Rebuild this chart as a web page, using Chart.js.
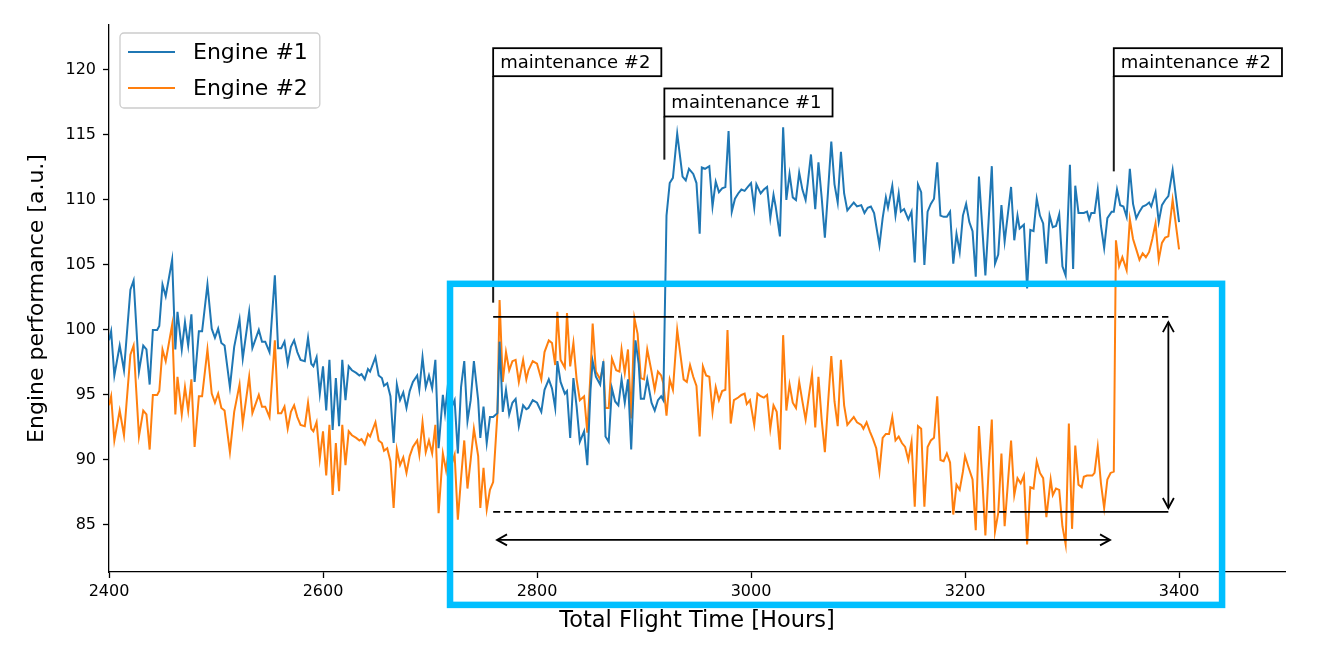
<!DOCTYPE html>
<html>
<head>
<meta charset="utf-8">
<title>Engine performance</title>
<script src="https://cdn.jsdelivr.net/npm/chart.js@4/dist/chart.umd.min.js"></script>
<style>
  html, body { margin: 0; padding: 0; background: #fff; }
  #wrap { width: 1320px; height: 660px; }
</style>
</head>
<body>
<div id="wrap"><canvas id="c"></canvas></div>
<script>
// ---------------- data ----------------
const seriesNames = ['Engine #1', 'Engine #2'];

const engine1Hours = [
  2400, 2402, 2405, 2410, 2414, 2420, 2423, 2428, 2432, 2435,
  2438, 2441, 2445, 2447, 2450, 2453, 2459, 2462, 2464, 2468,
  2471, 2474, 2477, 2480, 2484, 2487, 2492, 2496, 2499, 2502,
  2505, 2508, 2513, 2517, 2522, 2525, 2531, 2534, 2540, 2543,
  2546, 2550, 2555, 2558, 2561, 2564, 2567, 2570, 2573, 2576,
  2579, 2583, 2586, 2589, 2591, 2594, 2597, 2600, 2603, 2606,
  2609, 2612, 2615, 2618, 2621, 2624, 2627, 2631, 2634, 2636,
  2639, 2642, 2644, 2649, 2652, 2655, 2657, 2660, 2663, 2666,
  2669, 2672, 2675, 2678, 2681, 2684, 2688, 2690, 2693, 2696,
  2699, 2702, 2705, 2708, 2712, 2714, 2717, 2720, 2723, 2726,
  2729, 2732, 2735, 2738, 2741, 2745, 2747, 2750, 2753, 2756,
  2759, 2763, 2765, 2768, 2771, 2774, 2777, 2780, 2783, 2787,
  2790, 2792, 2796, 2800, 2804, 2807, 2811, 2814, 2817, 2819,
  2822, 2826, 2828, 2831, 2834, 2837, 2840, 2844, 2847, 2850,
  2852, 2855, 2859, 2862, 2864, 2867, 2870, 2873, 2876, 2879,
  2882, 2885, 2888, 2892, 2895, 2897, 2900, 2903, 2907, 2910,
  2913, 2916, 2918, 2921, 2924, 2927, 2931, 2936, 2939, 2942,
  2946, 2949, 2952, 2954, 2957, 2961, 2964, 2967, 2970, 2973,
  2976, 2979, 2982, 2985, 2988, 2991, 2994, 2997, 3000, 3003,
  3005, 3009, 3012, 3015, 3018, 3021, 3023, 3027, 3030, 3033,
  3036, 3039, 3042, 3045, 3048, 3051, 3053, 3056, 3060, 3063,
  3066, 3069, 3072, 3075, 3078, 3081, 3084, 3087, 3090, 3093,
  3096, 3099, 3103, 3106, 3109, 3112, 3115, 3120, 3123, 3126,
  3128, 3132, 3135, 3138, 3140, 3143, 3147, 3150, 3153, 3156,
  3159, 3162, 3165, 3168, 3171, 3174, 3177, 3180, 3183, 3186,
  3189, 3192, 3195, 3198, 3201, 3204, 3207, 3210, 3213, 3219,
  3225, 3228, 3231, 3234, 3237, 3243, 3246, 3249, 3251, 3255,
  3258, 3261, 3264, 3267, 3270, 3273, 3276, 3279, 3282, 3285,
  3288, 3291, 3294, 3298, 3301, 3303, 3306, 3309, 3311, 3314,
  3316, 3318, 3321, 3324, 3327, 3330, 3333, 3337, 3339, 3342,
  3345, 3348, 3351, 3354, 3357, 3360, 3363, 3366, 3369, 3372,
  3374, 3378, 3381, 3384, 3387, 3390, 3394, 3397, 3400
];
const engine1Perf = [
  99.2, 99.9, 96.5, 98.8, 96.9, 103.1, 103.8, 96.8, 98.8, 98.5,
  95.8, 100.0, 100.0, 100.3, 103.5, 102.6, 105.4, 98.5, 101.4, 98.5,
  100.6, 98.8, 101.2, 96.0, 99.9, 99.9, 103.5, 100.1, 99.4, 100.1,
  99.0, 98.8, 95.6, 98.7, 100.8, 97.8, 101.4, 98.6, 100.0, 99.1,
  99.1, 98.3, 104.2, 98.6, 98.6, 99.1, 97.4, 98.7, 99.2, 98.3,
  97.7, 97.6, 99.4, 97.4, 97.2, 97.9, 95.1, 97.2, 93.8, 97.7,
  92.3, 96.3, 92.6, 97.7, 94.6, 97.2, 96.9, 96.7, 96.5, 96.6,
  96.2, 97.0, 96.8, 97.9, 96.5, 96.3, 95.7, 95.9, 94.9, 91.3,
  95.8, 94.6, 95.2, 94.0, 95.3, 96.0, 96.5, 95.4, 97.9, 95.6,
  96.5, 95.5, 97.7, 90.9, 95.0, 93.6, 96.0, 94.0, 94.6, 90.5,
  95.6, 97.6, 93.0, 94.6, 97.6, 94.6, 91.7, 94.1, 91.3, 93.3,
  93.3, 93.6, 99.1, 93.7, 95.4, 93.5, 94.4, 94.7, 92.6, 94.2,
  93.9, 94.0, 94.6, 94.4, 93.7, 95.4, 96.2, 95.5, 94.0, 97.6,
  96.0, 95.1, 95.3, 91.7, 96.3, 94.1, 91.4, 92.2, 89.6, 95.4,
  97.6, 96.4, 95.8, 97.6, 91.8, 91.4, 95.5, 94.5, 94.2, 96.2,
  94.4, 96.2, 90.8, 99.2, 97.4, 94.7, 94.7, 96.2, 94.4, 93.8,
  94.6, 94.9, 94.6, 108.8, 111.3, 111.7, 115.1, 111.8, 111.5, 112.4,
  112.0, 111.3, 107.4, 112.5, 112.4, 112.6, 109.5, 111.4, 110.6, 110.9,
  111.0, 115.3, 109.1, 110.1, 110.5, 110.8, 110.7, 111.0, 111.3, 109.4,
  111.2, 110.5, 110.8, 111.0, 108.6, 110.4, 109.5, 107.2, 115.6, 110.0,
  112.0, 110.2, 110.0, 112.1, 110.8, 110.0, 111.3, 113.5, 109.3, 112.9,
  110.2, 107.1, 110.7, 114.5, 111.2, 109.8, 113.7, 110.5, 109.2, 109.5,
  109.8, 109.5, 109.6, 109.0, 109.4, 109.5, 109.0, 106.5, 108.6, 110.2,
  109.4, 111.1, 108.8, 110.5, 109.1, 109.3, 108.5, 109.1, 105.2, 111.2,
  110.6, 105.0, 109.1, 109.7, 110.1, 112.9, 108.8, 108.7, 108.7, 109.1,
  105.1, 107.4, 106.0, 108.8, 109.7, 108.3, 107.6, 104.1, 111.8, 104.2,
  112.6, 105.1, 105.8, 109.6, 106.8, 111.0, 106.9, 108.8, 107.8, 108.1,
  103.2, 107.7, 107.6, 110.1, 108.8, 108.2, 105.1, 108.8, 107.9, 108.0,
  108.9, 104.9, 104.2, 112.7, 104.7, 111.1, 109.0, 109.0, 109.0, 109.1,
  108.5, 109.0, 109.0, 110.8, 108.0, 106.3, 108.6, 109.1, 109.1, 110.8,
  109.6, 109.5, 108.7, 112.4, 109.7, 108.6, 109.1, 109.5, 109.6, 109.8,
  109.5, 110.6, 108.3, 109.6, 110.0, 110.3, 112.3, 110.3, 108.3
];

const engine2Hours = [
  2400, 2402, 2405, 2410, 2414, 2420, 2423, 2428, 2432, 2435,
  2438, 2441, 2445, 2447, 2450, 2453, 2459, 2462, 2464, 2468,
  2471, 2474, 2477, 2480, 2484, 2487, 2492, 2496, 2499, 2502,
  2505, 2508, 2513, 2517, 2522, 2525, 2531, 2534, 2540, 2543,
  2546, 2550, 2555, 2558, 2561, 2564, 2567, 2570, 2573, 2576,
  2579, 2583, 2586, 2589, 2591, 2594, 2597, 2600, 2603, 2606,
  2609, 2612, 2615, 2618, 2621, 2624, 2627, 2631, 2634, 2636,
  2639, 2642, 2644, 2649, 2652, 2655, 2657, 2660, 2663, 2666,
  2669, 2672, 2675, 2678, 2681, 2684, 2688, 2690, 2693, 2696,
  2699, 2702, 2705, 2708, 2712, 2715, 2717, 2720, 2723, 2726,
  2729, 2732, 2735, 2738, 2741, 2745, 2747, 2750, 2753, 2756,
  2759, 2763, 2765, 2768, 2771, 2774, 2777, 2780, 2783, 2787,
  2790, 2792, 2796, 2800, 2804, 2807, 2811, 2814, 2817, 2819,
  2822, 2826, 2828, 2831, 2834, 2837, 2840, 2844, 2847, 2850,
  2852, 2855, 2859, 2862, 2864, 2867, 2870, 2874, 2877, 2879,
  2882, 2885, 2888, 2891, 2894, 2897, 2900, 2903, 2907, 2910,
  2913, 2916, 2918, 2921, 2924, 2927, 2931, 2934, 2937, 2940,
  2943, 2946, 2949, 2952, 2955, 2958, 2961, 2964, 2967, 2970,
  2973, 2976, 2978, 2981, 2984, 2988, 2991, 2994, 2996, 2999,
  3003, 3006, 3009, 3012, 3015, 3018, 3021, 3024, 3027, 3030,
  3033, 3036, 3039, 3042, 3045, 3048, 3051, 3054, 3057, 3060,
  3063, 3066, 3069, 3072, 3075, 3078, 3081, 3084, 3087, 3090,
  3093, 3096, 3099, 3103, 3105, 3108, 3111, 3114, 3117, 3120,
  3123, 3126, 3129, 3132, 3135, 3138, 3141, 3144, 3147, 3150,
  3153, 3156, 3159, 3162, 3165, 3168, 3171, 3174, 3177, 3180,
  3183, 3186, 3189, 3192, 3195, 3198, 3200, 3203, 3207, 3210,
  3213, 3216, 3219, 3222, 3225, 3228, 3231, 3234, 3237, 3240,
  3243, 3246, 3249, 3252, 3255, 3258, 3261, 3264, 3267, 3270,
  3273, 3276, 3280, 3282, 3285, 3288, 3291, 3294, 3297, 3300,
  3303, 3306, 3309, 3311, 3314, 3316, 3319, 3321, 3324, 3327,
  3330, 3333, 3336, 3339, 3341, 3344, 3347, 3351, 3354, 3357,
  3360, 3363, 3366, 3369, 3372, 3375, 3378, 3381, 3384, 3387,
  3390, 3394, 3397, 3400
];
const engine2Perf = [
  94.2, 94.9, 91.5, 93.8, 91.9, 98.1, 98.8, 91.8, 93.8, 93.5,
  90.8, 95.0, 95.0, 95.3, 98.5, 97.6, 100.4, 93.5, 96.4, 93.5,
  95.6, 93.8, 96.2, 91.0, 94.9, 94.9, 98.5, 95.1, 94.4, 95.1,
  94.0, 93.8, 90.6, 93.7, 95.8, 92.8, 96.4, 93.6, 95.0, 94.1,
  94.1, 93.3, 99.2, 93.6, 93.6, 94.1, 92.4, 93.7, 94.2, 93.3,
  92.7, 92.6, 94.4, 92.4, 92.2, 92.9, 90.1, 92.2, 88.8, 92.7,
  87.3, 91.3, 87.6, 92.7, 89.6, 92.2, 91.9, 91.7, 91.5, 91.6,
  91.2, 92.0, 91.8, 92.9, 91.5, 91.3, 90.7, 90.9, 89.9, 86.3,
  90.8, 89.6, 90.2, 89.0, 90.3, 91.0, 91.5, 90.4, 92.9, 90.6,
  91.5, 90.5, 92.7, 85.9, 90.5, 89.2, 90.5, 89.6, 90.4, 85.4,
  88.6, 91.5, 87.8, 90.0, 92.4, 90.3, 86.3, 89.4, 86.2, 87.7,
  88.3, 93.6, 102.3, 96.0, 98.3, 96.9, 97.6, 97.7, 96.0, 97.7,
  96.2, 96.9, 97.6, 97.4, 96.2, 98.3, 99.2, 99.0, 97.3, 101.4,
  97.7, 97.1, 101.3, 97.2, 99.0, 96.2, 94.6, 94.9, 92.1, 96.7,
  100.5, 96.8, 96.2, 97.3, 94.0, 94.0, 97.8, 96.9, 96.8, 98.5,
  96.7, 98.5, 93.2, 100.9, 99.7, 96.3, 96.2, 98.5, 96.8, 95.4,
  96.8, 96.5, 95.9, 93.4, 96.2, 95.4, 100.0, 98.1, 96.2, 96.0,
  97.3, 96.4, 95.7, 91.8, 97.2, 96.5, 96.4, 93.7, 95.6, 94.6,
  95.3, 95.4, 100.0, 92.8, 94.6, 94.8, 95.0, 95.1, 94.3, 94.6,
  92.7, 95.1, 94.9, 94.8, 95.0, 92.4, 94.2, 93.7, 90.8, 99.6,
  93.8, 95.8, 94.4, 94.0, 96.0, 94.5, 93.1, 94.9, 96.6, 92.5,
  96.4, 93.1, 90.6, 94.4, 98.0, 94.5, 92.6, 97.7, 94.2, 92.7,
  93.0, 93.3, 92.9, 92.7, 92.4, 92.9, 92.2, 91.6, 90.9, 89.1,
  91.7, 92.0, 92.0, 93.3, 91.5, 91.8, 91.3, 91.0, 90.0, 91.4,
  86.4, 92.6, 92.4, 86.4, 91.0, 91.5, 91.7, 94.9, 90.0, 89.9,
  90.5, 89.8, 85.8, 88.1, 87.7, 89.1, 90.3, 89.5, 88.5, 84.6,
  92.6, 88.7, 84.2, 89.2, 93.1, 84.5, 85.9, 90.5, 84.9, 88.2,
  91.5, 87.3, 88.6, 88.2, 88.8, 83.5, 87.9, 87.8, 89.9, 89.0,
  88.6, 85.6, 88.5, 87.3, 87.8, 87.7, 84.9, 83.5, 92.8, 84.7,
  91.1, 88.1, 87.9, 88.7, 88.8, 88.8, 88.8, 89.0, 91.0, 88.2,
  86.3, 88.5, 89.0, 89.1, 106.9, 104.9, 105.6, 104.6, 108.5, 107.0,
  106.2, 105.4, 105.9, 105.6, 106.0, 107.0, 108.2, 105.4, 106.7, 107.1,
  107.2, 110.0, 108.1, 106.2
];

// axis ranges and ticks
const xMin = 2400, xMax = 3499, xStep = 200;
const yMin = 81.38, yMax = 123.46, yStep = 5;
const xTitle = 'Total Flight Time [Hours]';
const yTitle = 'Engine performance [a.u.]';

// annotations (data units)
const noteLabels = ['maintenance #2', 'maintenance #1', 'maintenance #2'];
const noteHours = [2759, 2919, 3339];
const noteTextLevel = [120.6, 117.5, 120.6];
const noteTipLevel = [102.1, 113.1, 112.2];

const refStart = 2759, refEnd = 3390;
const upperLevel = 101.0, upperSolidEnd = 2921.5;
const lowerLevel = 86.0, lowerDashEnd = 3246.7;
const vArrowHour = 3390, vArrowTop = 100.6, vArrowBottom = 86.3;
const hArrowLevel = 83.85, hArrowStart = 2762.6, hArrowEnd = 3335.5;
const boxHours = [2718.7, 3440.2], boxLevels = [78.85, 103.55];

// ---------------- styling ----------------
const FONT = '"DejaVu Sans", "Liberation Sans", sans-serif';
const colors = ['#1f77b4', '#ff7f0e'];

function toPoints(hours, vals) { return hours.map((h, i) => ({ x: h, y: vals[i] })); }

const overlay = {
  id: 'overlay',
  afterDatasetsDraw(chart) {
    const { ctx, scales: { x, y }, chartArea } = chart;
    const X = h => x.getPixelForValue(h);
    const Y = v => y.getPixelForValue(v);
    ctx.save();

    function seg(x1, y1, x2, y2, dash, lw, col) {
      ctx.beginPath();
      ctx.setLineDash(dash || []);
      ctx.lineWidth = lw || 1.8;
      ctx.strokeStyle = col || '#000';
      ctx.moveTo(x1, y1); ctx.lineTo(x2, y2);
      ctx.stroke();
      ctx.setLineDash([]);
    }
    function head(tx, ty, dx, dy) {
      const L = 10, W = 5.5;
      const px = -dy, py = dx;
      ctx.beginPath();
      ctx.lineWidth = 1.8; ctx.strokeStyle = '#000'; ctx.lineJoin = 'miter';
      ctx.moveTo(tx - dx * L + px * W, ty - dy * L + py * W);
      ctx.lineTo(tx, ty);
      ctx.lineTo(tx - dx * L - px * W, ty - dy * L - py * W);
      ctx.stroke();
    }

    // reference level lines
    seg(X(refStart), Y(upperLevel), X(upperSolidEnd), Y(upperLevel), []);
    seg(X(upperSolidEnd), Y(upperLevel), X(refEnd), Y(upperLevel), [7, 4]);
    seg(X(refStart), Y(lowerLevel), X(lowerDashEnd), Y(lowerLevel), [7, 4]);
    seg(X(lowerDashEnd), Y(lowerLevel), X(refEnd), Y(lowerLevel), []);

    // double arrows
    const vx = X(vArrowHour), vt = Y(vArrowTop), vb = Y(vArrowBottom);
    seg(vx, vt, vx, vb, []);
    head(vx, vt, 0, -1); head(vx, vb, 0, 1);
    const hy = Y(hArrowLevel), hl = X(hArrowStart), hr = X(hArrowEnd);
    seg(hl, hy, hr, hy, []);
    head(hl, hy, -1, 0); head(hr, hy, 1, 0);

    // maintenance annotations
    ctx.font = '18px ' + FONT;
    ctx.textBaseline = 'middle';
    ctx.textAlign = 'left';
    noteLabels.forEach((label, i) => {
      const bx = X(noteHours[i]);
      const cy = Y(noteTextLevel[i]);
      const tw = ctx.measureText(label).width;
      const bw = tw + 18, bh = 28;
      seg(bx, cy + bh / 2, bx, Y(noteTipLevel[i]), [], 2, '#1a1a1a');
      ctx.fillStyle = '#fff';
      ctx.fillRect(bx, cy - bh / 2, bw, bh);
      ctx.lineWidth = 1.8; ctx.strokeStyle = '#000';
      ctx.strokeRect(bx, cy - bh / 2, bw, bh);
      ctx.fillStyle = '#000';
      ctx.fillText(label, bx + 7, cy + 1);
    });

    // highlight rectangle
    ctx.lineWidth = 6.5;
    ctx.strokeStyle = '#00bfff';
    const rx1 = X(boxHours[0]), rx2 = X(boxHours[1]);
    const ry1 = Y(boxLevels[1]), ry2 = Y(boxLevels[0]);
    ctx.strokeRect(rx1, ry1, rx2 - rx1, ry2 - ry1);

    // legend
    ctx.font = '22px ' + FONT;
    const lx = chartArea.left + 11, ly = chartArea.top + 8;
    const tws = chart.data.datasets.map(d => ctx.measureText(d.label).width);
    const lw = 8 + 47 + 18 + Math.max(...tws) + 12, lh = 75;
    ctx.beginPath();
    ctx.roundRect(lx, ly, lw, lh, 4);
    ctx.fillStyle = 'rgba(255,255,255,0.85)';
    ctx.fill();
    ctx.lineWidth = 1.3; ctx.strokeStyle = '#cccccc';
    ctx.stroke();
    chart.data.datasets.forEach((d, i) => {
      const ry = ly + 19 + i * 36;
      seg(lx + 8, ry, lx + 55, ry, [], 2, d.borderColor);
      ctx.fillStyle = '#000';
      ctx.textBaseline = 'middle';
      ctx.fillText(d.label, lx + 73, ry + 1);
    });

    ctx.restore();
  }
};

new Chart(document.getElementById('c'), {
  type: 'line',
  data: {
    datasets: [
      { label: seriesNames[0], data: toPoints(engine1Hours, engine1Perf), borderColor: colors[0], backgroundColor: colors[0], borderWidth: 2, pointRadius: 0, tension: 0, fill: false },
      { label: seriesNames[1], data: toPoints(engine2Hours, engine2Perf), borderColor: colors[1], backgroundColor: colors[1], borderWidth: 2, pointRadius: 0, tension: 0, fill: false }
    ]
  },
  options: {
    responsive: true,
    maintainAspectRatio: false,
    animation: false,
    layout: { padding: { top: 25, right: 35, left: 0, bottom: 0 } },
    plugins: { legend: { display: false }, tooltip: { enabled: false } },
    scales: {
      x: {
        type: 'linear', min: xMin, max: xMax,
        afterFit: s => { s.height = 88; },
        ticks: { stepSize: xStep, includeBounds: false, autoSkip: false, maxRotation: 0, color: '#000', padding: 4,
                 font: { family: FONT, size: 16 }, callback: v => String(v) },
        grid: { drawOnChartArea: false, drawTicks: true, tickLength: 6, tickWidth: 1.3, tickColor: '#000' },
        border: { display: true, color: '#000', width: 1.3 },
        title: { display: true, text: xTitle, color: '#000', font: { family: FONT, size: 22.5 }, padding: { top: 0, bottom: 25 } }
      },
      y: {
        type: 'linear', min: yMin, max: yMax,
        afterFit: s => { s.width = 109; },
        ticks: { stepSize: yStep, includeBounds: false, color: '#000', padding: 7,
                 font: { family: FONT, size: 16 }, callback: v => String(v) },
        grid: { drawOnChartArea: false, drawTicks: true, tickLength: 6, tickWidth: 1.3, tickColor: '#000' },
        border: { display: true, color: '#000', width: 1.3 },
        title: { display: true, text: yTitle, color: '#000', font: { family: FONT, size: 22 }, padding: { top: 24, bottom: 0 } }
      }
    }
  },
  plugins: [overlay]
});
</script>
</body>
</html>
